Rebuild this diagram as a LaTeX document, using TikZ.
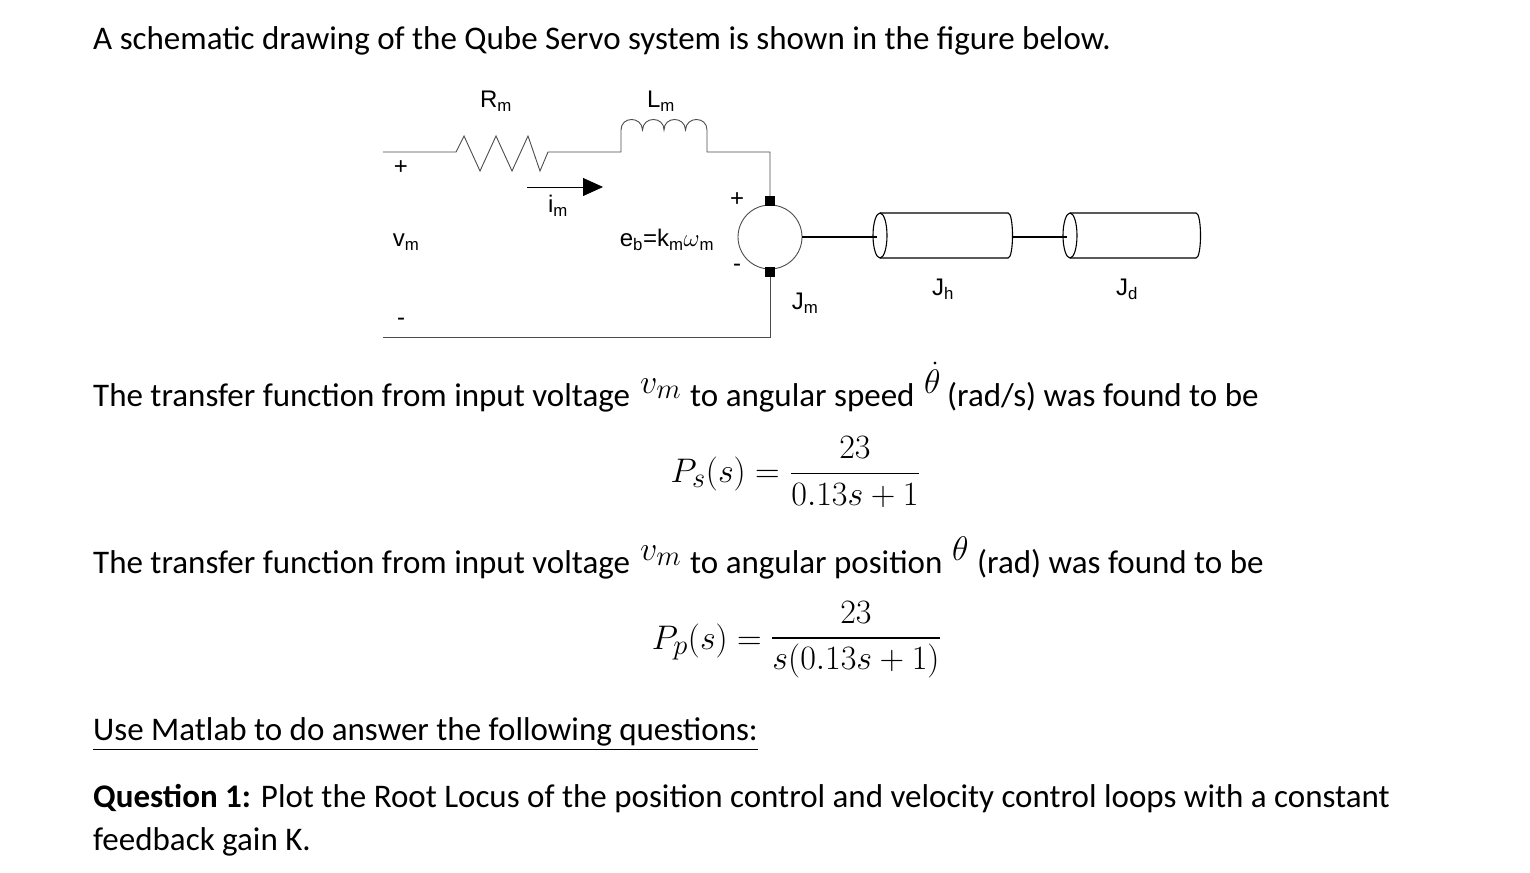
\documentclass[tikz,border=0pt]{standalone}
\usepackage{amsmath}
\usepackage{fontspec}
\setmainfont{Carlito}
\newfontfamily\arial{Liberation Sans}
\usetikzlibrary{arrows.meta}
\begin{document}
\begin{tikzpicture}[x=1pt,y=-1pt,
  txt/.style={anchor=base west,inner sep=0pt,font=\fontsize{33}{38}\selectfont},
  lab/.style={inner sep=0pt,font=\arial\fontsize{24}{27}\selectfont},
  wire/.style={draw=black!70,line width=0.9pt},
  mth/.style={inner sep=0pt,font=\fontsize{24.88}{30}\selectfont}]
\useasboundingbox (0,0) rectangle (1530,872);
% texts
\node[txt] (t0) at (93,50) {A schematic drawing of the Qube Servo system is shown in the figure below.};
\node[txt] (t1) at (93,406) {The transfer function from input voltage};
\node[mth,anchor=base west] (v1) at (640,393) {\scalebox{1.37}{$v_m$}};
\node[txt] (t1b) at (690,406) {to angular speed};
\node[mth,anchor=base west] (th1) at (924,393) {\scalebox{1.37}{$\dot\theta$}};
\node[txt] (t1c) at (947,406) {(rad/s) was found to be};
\node[mth,anchor=base east] (ps) at (780,482) {\scalebox{1.37}{$P_s(s)=$}};
\node[mth] (fr1) at (855,472) {\scalebox{1.37}{$\dfrac{23}{0.13s+1}$}};
\node[txt] (t2) at (93,573) {The transfer function from input voltage};
\node[mth,anchor=base west] (v2) at (640,560) {\scalebox{1.37}{$v_m$}};
\node[txt] (t2b) at (690,573) {to angular position};
\node[mth,anchor=base west] (th2) at (952,560) {\scalebox{1.37}{$\theta$}};
\node[txt] (t2c) at (977,573) {(rad) was found to be};
\node[mth,anchor=base east] (pp) at (762,649) {\scalebox{1.37}{$P_p(s)=$}};
\node[mth] (fr2) at (856,640) {\scalebox{1.37}{$\dfrac{23}{s(0.13s+1)}$}};
\node[txt] (t3) at (93,740) {\underline{Use Matlab to do answer the following questions:}};
\node[txt] (t4) at (93,807) {\textbf{Question 1:} Plot the Root Locus of the position control and velocity control loops with a constant};
\node[txt] (t5) at (93,850) {feedback gain K.};
% circuit
\coordinate (a) at (383,152);
\coordinate (r1) at (456,152);
\coordinate (r2) at (548,152);
\coordinate (l1) at (621,152);
\coordinate (l2) at (707,152);
\coordinate (c) at (770,152);
\coordinate (d) at (770,337);
\coordinate (e) at (383,337);
\draw[wire] (a) -- (r1) -- (464,136) -- (480,171) -- (496,136) -- (512,171) -- (528,136) -- (540,171) -- (r2) -- (l1)
  -- (621,130) .. controls (621,116) and (642,116) .. (642.5,130)
  .. controls (643,116) and (664,116) .. (664,130)
  .. controls (664,116) and (685,116) .. (685.5,130)
  .. controls (686,116) and (707,116) .. (707,130) -- (l2) -- (c) -- (770,203);
\draw[wire] (770,272) -- (d) -- (e);
\node[draw=black!70,line width=0.9pt,circle,minimum size=64pt,inner sep=0pt] (mot) at (770,237) {};
\node[fill=black,minimum size=10pt,inner sep=0pt] (tp) at (770,201) {};
\node[fill=black,minimum size=10pt,inner sep=0pt] (tm) at (770,272) {};
\draw[black!70,line width=0.8pt,-{Triangle[length=20pt,width=18pt]},black] (527,187) -- (603,187);
% shafts and cylinders
\draw[line width=2.4pt] (mot.east) -- (877,237);
\draw[line width=2.4pt] (1012,237) -- (1067,237);
\draw[line width=1.1pt] (880,213) -- (1008,213) .. controls (1014,213) and (1014,258) .. (1008,258) -- (880,258);
\draw[line width=1.1pt] (880,235.5) ellipse[x radius=7,y radius=22.5];
\draw[line width=1.1pt] (1070,213) -- (1196,213) .. controls (1202,213) and (1202,258) .. (1196,258) -- (1070,258);
\draw[line width=1.1pt] (1070,235.5) ellipse[x radius=7,y radius=22.5];
% labels
\node[lab] (Rm) at (496,101) {R\textsubscript{m}};
\node[lab] (Lm) at (661,101) {L\textsubscript{m}};
\node[lab] (p1) at (401,168) {+};
\node[lab] (im) at (558,206) {i\textsubscript{m}};
\node[lab] (vm) at (406,242) {v\textsubscript{m}};
\node[lab] (m1) at (401,322) {-};
\node[lab] (p2) at (737,200) {+};
\node[lab] (eb) at (667,240) {e\textsubscript{b}=k\textsubscript{m}$\omega$\textsubscript{m}};
\node[lab] (m2) at (737,268) {-};
\node[lab] (Jm) at (805,303) {J\textsubscript{m}};
\node[lab] (Jh) at (943,289) {J\textsubscript{h}};
\node[lab] (Jd) at (1127,289) {J\textsubscript{d}};
\end{tikzpicture}
\end{document}
